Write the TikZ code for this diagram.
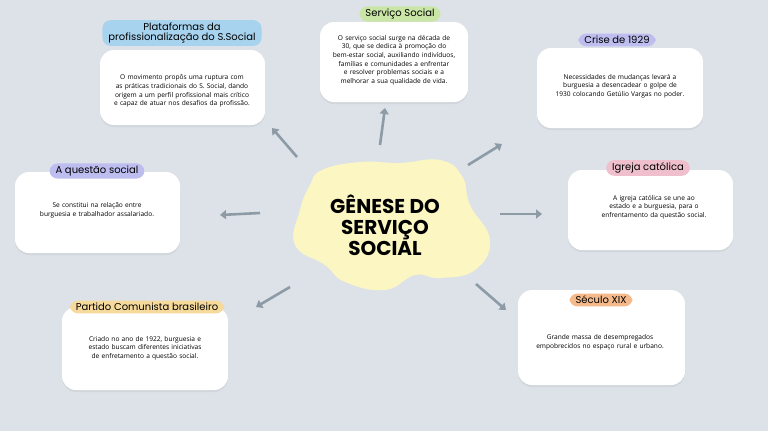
\documentclass[tikz,border=0pt]{standalone}
\usepackage{fontspec}
\setmainfont{Open Sans}
\newfontfamily\titlefont{Poppins}
\usetikzlibrary{arrows.meta,shadows}
\hyphenpenalty=10000
\exhyphenpenalty=10000
\tolerance=9999
\definecolor{bg}{HTML}{DDE2E8}
\definecolor{arr}{HTML}{8C9BA6}
\definecolor{cblue}{HTML}{A8D3EE}
\definecolor{cgreen}{HTML}{C9E6A6}
\definecolor{cpurple}{HTML}{BDBDF0}
\definecolor{cpink}{HTML}{EFBFCD}
\definecolor{cyellow}{HTML}{F5DA9C}
\definecolor{corange}{HTML}{F5BA8C}
\definecolor{blob}{HTML}{FBF6C2}
\tikzset{
 card/.style={fill=white,rounded corners=14pt,drop shadow={shadow xshift=0pt,shadow yshift=-2pt,opacity=0.12}},
 body/.style={font=\fontsize{6.6}{8.6}\selectfont,align=center,text width=#1},
 pill/.style={fill=#1,rounded corners=8pt,inner xsep=6pt,inner ysep=2.5pt,font=\titlefont\fontsize{10}{11.5}\selectfont,align=center},
 arw/.style={arr,line width=2.6pt,-{Triangle[length=6pt,width=9pt]}}
}
\begin{document}
\begin{tikzpicture}[x=1pt,y=-1pt]
\fill[bg] (0,0) rectangle (768,431);
\useasboundingbox (0,0) rectangle (768,431);
% cards
\path[card] (100,50) rectangle (265,125);
\path[card] (320,22) rectangle (468,102);
\path[card] (537,48) rectangle (703,128);
\path[card] (15,172) rectangle (180,253);
\path[card] (568,170) rectangle (733,250);
\path[card] (62,307) rectangle (228,390);
\path[card] (518,290) rectangle (685,385);
% texts
\node[body=140pt] (tplat) at (182,91) {O movimento propôs uma ruptura com as práticas tradicionais do S. Social, dando origem a um perfil profissional mais crítico e capaz de atuar nos desafios da profissão.};
\node[body=132pt] (tserv) at (394,60) {O serviço social surge na década de 30, que se dedica à promoção do bem-estar social, auxiliando indivíduos, famílias e comunidades a enfrentar e resolver problemas sociais e a melhorar a sua qualidade de vida.};
\node[body=130pt] (tcrise) at (620,86) {Necessidades de mudanças levará a burguesia a desencadear o golpe de 1930 colocando Getúlio Vargas no poder.};
\node[body=125pt] (tquest) at (97,210) {Se constitui na relação entre burguesia e trabalhador assalariado.};
\node[body=130pt] (tigreja) at (654,207) {A igreja católica se une ao estado e a burguesia, para o enfrentamento da questão social.};
\node[body=132pt] (tpart) at (145,348) {Criado no ano de 1922, burguesia e estado buscam diferentes iniciativas de enfretamento a questão social.};
\node[body=130pt] (tsec) at (600,342) {Grande massa de desempregados empobrecidos no espaço rural e urbano.};
% pills
\node[pill=cblue] (pplat) at (182,33) {Plataformas da\\[-1pt]profissionalização do S.Social};
\node[pill=cgreen] (pserv) at (400,14) {Serviço Social};
\node[pill=cpurple] (pcrise) at (617,40) {Crise de 1929};
\node[pill=cpurple] (pquest) at (97,171) {A questão social};
\node[pill=cpink] (pigreja) at (648,168) {Igreja católica};
\node[pill=cyellow] (ppart) at (147,307) {Partido Comunista brasileiro};
\node[pill=corange] (psec) at (601,300) {Século XIX};
% blob
\fill[blob] plot[smooth cycle,tension=0.75] coordinates {(322,170) (360,162) (400,163) (440,160) (462,176) (470,205) (490,240) (475,270) (440,278) (415,275) (385,290) (345,282) (325,265) (295,245) (300,210) (310,185)};
\node[font=\titlefont\bfseries\fontsize{20}{21}\selectfont,align=center] (center) at (385,225) {GÊNESE DO\\SERVIÇO\\SOCIAL};
% arrows
\coordinate (a1) at (297,157); \coordinate (b1) at (272,128);
\coordinate (a2) at (380,145); \coordinate (b2) at (385,108);
\coordinate (a3) at (468,165); \coordinate (b3) at (502,144);
\coordinate (a4) at (260,213); \coordinate (b4) at (220,215);
\coordinate (a5) at (500,214); \coordinate (b5) at (542,214);
\coordinate (a6) at (290,287); \coordinate (b6) at (256,307);
\coordinate (a7) at (476,284); \coordinate (b7) at (506,310);
\foreach \i in {1,...,7} \draw[arw] (a\i) -- (b\i);
\end{tikzpicture}
\end{document}
